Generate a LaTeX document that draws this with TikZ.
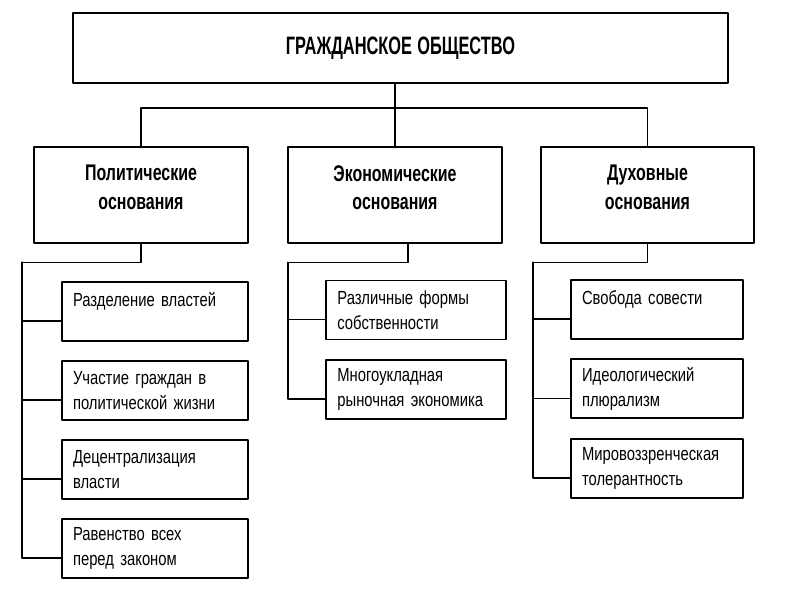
\documentclass[tikz,border=0pt]{standalone}
\usepackage{fontspec}
\setmainfont[FakeStretch=0.78,WordSpace=0.8]{Liberation Sans}
\newfontfamily\narrowbold[FakeStretch=0.705,WordSpace=0.8]{Liberation Sans}
\newfontfamily\titlefont[FakeStretch=0.65,WordSpace=1.2]{Liberation Sans}
\usetikzlibrary{positioning}

\begin{document}
\begin{tikzpicture}[line cap=round,line join=round,
  box/.style={draw,line width=1.4pt,rectangle},
  titlebox/.style={box,minimum width=16.375cm,minimum height=1.75cm,font=\titlefont\bfseries\fontsize{17.9}{20}\selectfont},
  headbox/.style={box,minimum width=5.35cm,minimum height=2.4cm,align=center,font=\narrowbold\bfseries\fontsize{16.1}{20}\selectfont},
  leafbox/.style={box,text width=#1,minimum height=1.475cm,align=left,inner xsep=2.75mm,font=\fontsize{13.5}{17.8}\selectfont},
  link/.style={line width=1.1pt}]
  \useasboundingbox (0,0) rectangle (20,15);
  \node[titlebox] (top) at (10.0125,13.8) {ГРАЖДАНСКОЕ ОБЩЕСТВО};
  \node[headbox] (pol) at (3.525,10.125) {Политические\\основания\\[-9pt]\mbox{}};
  \node[headbox] (eco) at (9.875,10.125) {Экономические\\основания\\[-9pt]\mbox{}};
  \node[headbox,minimum width=5.325cm] (dux) at (16.1875,10.125) {Духовные\\основания\\[-9pt]\mbox{}};
  % top links
  \coordinate (hub) at (9.875,12.3);
  \draw[link] (top.south -| hub) -- (hub) -- (eco.north);
  \draw[link] (pol.north) |- (hub) -| (dux.north);
  % political column
  \node[leafbox=4.1cm] (p1) at (3.875,7.2125) {Разделение властей\\\mbox{}};
  \node[leafbox=4.1cm,below=4.5mm of p1] (p2) {Участие граждан в\\политической жизни};
  \node[leafbox=4.1cm,below=4.5mm of p2] (p3) {Децентрализация\\власти};
  \node[leafbox=4.1cm,below=4.5mm of p3] (p4) {Равенство всех\\перед законом};
  \coordinate (polbus) at (0.55,8.4375);
  \draw[link] (pol.south) |- (polbus);
  \foreach \n in {p1,p2,p3,p4}
    \draw[link] ([yshift=-2.4mm]\n.west) -| (polbus);
  % economic column
  \node[leafbox=3.95cm] (e1) at (10.41,7.25) {Различные формы\\собственности};
  \node[leafbox=3.95cm,below=4.6mm of e1] (e2) {Многоукладная\\рыночная экономика};
  \coordinate (ecobus) at (7.2,8.4375);
  \draw[link] ([xshift=3.25mm]eco.south) |- (ecobus);
  \foreach \n in {e1,e2}
    \draw[link] ([yshift=-2.4mm]\n.west) -| (ecobus);
  % spiritual column
  \node[leafbox=3.75cm] (d1) at (16.425,7.26) {Свобода совести\\\mbox{}};
  \node[leafbox=3.75cm,below=4.6mm of d1] (d2) {Идеологический\\плюрализм};
  \node[leafbox=3.75cm,below=4.6mm of d2] (d3) {Мировоззренческая\\толерантность};
  \coordinate (duxbus) at (13.325,8.4375);
  \draw[link] (dux.south) |- (duxbus);
  \foreach \n in {d1,d2,d3}
    \draw[link] ([yshift=-2.4mm]\n.west) -| (duxbus);
\end{tikzpicture}
\end{document}
